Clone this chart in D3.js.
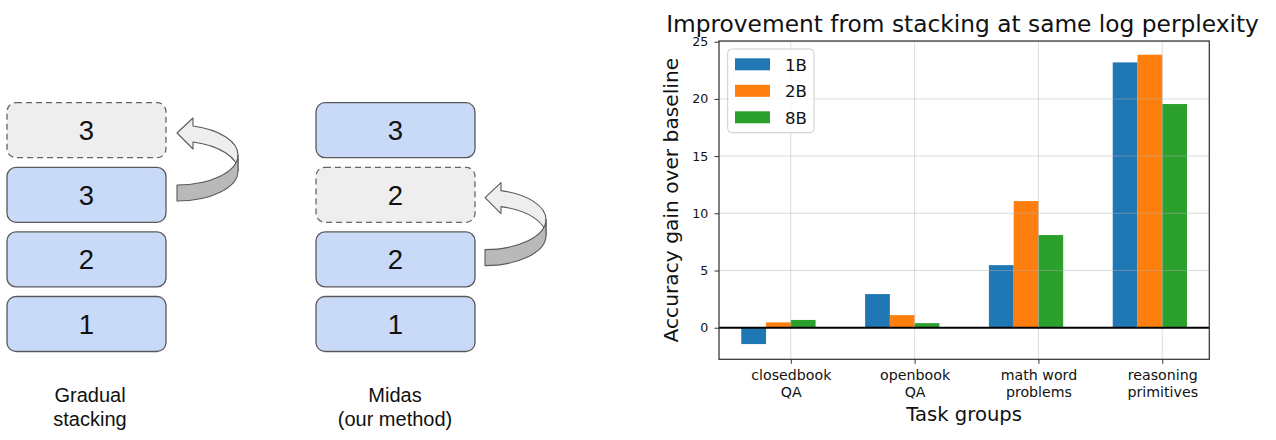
<!DOCTYPE html>
<html>
<head>
<meta charset="utf-8">
<script src="https://cdn.jsdelivr.net/npm/d3@7"></script>
<style>
  html, body { margin: 0; padding: 0; background: #fff; }
  svg { display: block; }
</style>
</head>
<body>
<svg id="fig" width="1276" height="440"></svg>
<script>
// ---------------- data ----------------
const categories = ["closedbook\nQA", "openbook\nQA", "math word\nproblems", "reasoning\nprimitives"];
const seriesNames = ["1B", "2B", "8B"];
const values1B = [-1.43, 2.94, 5.47, 23.19];
const values2B = [0.47, 1.10, 11.07, 23.86];
const values8B = [0.68, 0.40, 8.10, 19.55];
const yTicks = [0, 5, 10, 15, 20, 25];
const chartTitle = "Improvement from stacking at same log perplexity";
const yLabel = "Accuracy gain over baseline";
const xLabel = "Task groups";

const gradualLayers = ["1", "2", "3", "3"];   // bottom to top
const midasLayers = ["1", "2", "2", "3"];
const gradualCaption = ["Gradual", "stacking"];
const midasCaption = ["Midas", "(our method)"];

// ---------------- setup ----------------
const svg = d3.select("#fig");
const colors = ["#1f77b4", "#ff7f0e", "#2ca02c"];
const series = [values1B, values2B, values8B];

// ---------------- left diagram ----------------
const diag = svg.append("g").attr("font-family", "'Liberation Sans', Arial, sans-serif");
const boxW = 159, boxH = 55, pitch = 64.6, bottomTop = 296.5;

function drawStack(x0, layers, dashedIndex) {
  layers.forEach((lbl, i) => {
    const y = bottomTop - i * pitch;
    const dashed = i === dashedIndex;
    diag.append("rect")
      .attr("x", x0).attr("y", y).attr("width", boxW).attr("height", boxH)
      .attr("rx", 9).attr("ry", 9)
      .attr("fill", dashed ? "#eeeeee" : "#c9daf8")
      .attr("stroke", dashed ? "#666666" : "#595959")
      .attr("stroke-width", 1.3)
      .attr("stroke-dasharray", dashed ? "6,4" : null);
    diag.append("text")
      .attr("x", x0 + boxW / 2).attr("y", y + boxH / 2 + 9.9)
      .attr("text-anchor", "middle").attr("font-size", 27.5).attr("fill", "#111")
      .text(lbl);
  });
}

function drawArrow(dx, dy) {
  const g = diag.append("g").attr("transform", `translate(${dx},${dy})`);
  const cx = 177, cy = 155, rx = 61, ry = 30, t = 16;
  const hx = 193;
  const c = (hx - cx) / rx, s = Math.sqrt(1 - c * c);
  const uy = cy - ry * s;
  // light top face with arrowhead
  g.append("path")
    .attr("d", `M${hx},${uy} L${hx},118 L${cx},133 L${hx},149 L${hx},${uy + t}
      A${rx},${ry} 0 0 1 ${cx + rx},${cy + t} L${cx + rx},${cy}
      A${rx},${ry} 0 0 0 ${hx},${uy} Z`)
    .attr("fill", "#eeeeee").attr("stroke", "#595959").attr("stroke-width", 1.1)
    .attr("stroke-linejoin", "round");
  // dark underside towards the tail
  g.append("path")
    .attr("d", `M${cx + rx},${cy} A${rx},${ry} 0 0 1 ${cx},${cy + ry}
      L${cx},${cy + ry + t} A${rx},${ry} 0 0 0 ${cx + rx},${cy + t} Z`)
    .attr("fill", "#b9b9b9").attr("stroke", "#595959").attr("stroke-width", 1.1)
    .attr("stroke-linejoin", "round");
}

drawStack(7, gradualLayers, 3);
drawStack(316, midasLayers, 2);
drawArrow(0, 0);
drawArrow(308, 64.6);

function caption(cx, lines) {
  lines.forEach((l, i) => {
    diag.append("text").attr("x", cx).attr("y", 402 + i * 24)
      .attr("text-anchor", "middle").attr("font-size", 20).attr("fill", "#111")
      .text(l);
  });
}
caption(90, gradualCaption);
caption(395, midasCaption);

// ---------------- bar chart ----------------
const L = 719, R = 1209.3, T = 41, B = 359.3;
const x = d3.scaleLinear().domain([-0.58, 3.38]).range([L, R]);
const y = d3.scaleLinear().domain([-2.76, 25.06]).range([B, T]);
const chart = svg.append("g").attr("font-family", "'DejaVu Sans', sans-serif");
const barW = 0.2;

// bars
series.forEach((vals, k) => {
  chart.append("g").selectAll("rect").data(vals).join("rect")
    .attr("x", (d, i) => x(i + (k - 2) * barW))
    .attr("width", x(barW) - x(0))
    .attr("y", d => y(Math.max(0, d)))
    .attr("height", d => Math.abs(y(d) - y(0)))
    .attr("fill", colors[k]);
});

// grid (above bars, like matplotlib default)
const grid = chart.append("g").attr("stroke", "#b0b0b0").attr("stroke-opacity", 0.45).attr("stroke-width", 1);
grid.selectAll("line.h").data(yTicks).join("line")
  .attr("x1", L).attr("x2", R).attr("y1", d => y(d)).attr("y2", d => y(d));
grid.selectAll("line.v").data(categories.map((c, i) => i)).join("line")
  .attr("x1", d => x(d)).attr("x2", d => x(d)).attr("y1", T).attr("y2", B);

// zero line
chart.append("line").attr("x1", L).attr("x2", R).attr("y1", y(0)).attr("y2", y(0))
  .attr("stroke", "#000").attr("stroke-width", 2);

// axes
const yAxis = chart.append("g").attr("transform", `translate(${L},0)`)
  .call(d3.axisLeft(y).tickValues(yTicks).tickSize(4.5).tickPadding(6.3).tickFormat(d3.format("d")));
yAxis.select(".domain").remove();
yAxis.selectAll("text").attr("font-size", 12.6).attr("fill", "#111").attr("font-family", "'DejaVu Sans', sans-serif");
yAxis.selectAll("line").attr("stroke", "#333").attr("stroke-width", 1);

const xAxis = chart.append("g").attr("transform", `translate(0,${B})`)
  .call(d3.axisBottom(x).tickValues(categories.map((c, i) => i)).tickSize(4.5).tickFormat(""));
xAxis.select(".domain").remove();
xAxis.selectAll("line").attr("stroke", "#333").attr("stroke-width", 1);
xAxis.selectAll(".tick").each(function (d) {
  const lines = categories[d].split("\n");
  const tEl = d3.select(this).select("text")
    .attr("font-size", 14.2).attr("fill", "#111").attr("font-family", "'DejaVu Sans', sans-serif")
    .attr("text-anchor", "middle").attr("y", 0).attr("dy", null);
  lines.forEach((l, j) => {
    tEl.append("tspan").attr("x", 0).attr("y", 20.7 + j * 16.8).text(l);
  });
});

// spines
chart.append("rect").attr("x", L).attr("y", T).attr("width", R - L).attr("height", B - T)
  .attr("fill", "none").attr("stroke", "#333").attr("stroke-width", 1.25);

// title and labels
chart.append("text").attr("x", 962.5).attr("y", 31.7).attr("text-anchor", "middle")
  .attr("font-size", 23.3).attr("fill", "#111").text(chartTitle);
chart.append("text").attr("x", (L + R) / 2).attr("y", 420.7).attr("text-anchor", "middle")
  .attr("font-size", 19.6).attr("fill", "#111").text(xLabel);
chart.append("text").attr("transform", `translate(677.5,${(T + B) / 2}) rotate(-90)`)
  .attr("text-anchor", "middle").attr("font-size", 20.2).attr("fill", "#111").text(yLabel);

// legend
const leg = chart.append("g");
leg.append("rect").attr("x", 727.7).attr("y", 49).attr("width", 86.3).attr("height", 83.7)
  .attr("rx", 4).attr("fill", "#fff").attr("fill-opacity", 0.8)
  .attr("stroke", "#cccccc").attr("stroke-width", 1);
seriesNames.forEach((n, k) => {
  const cy = 64.3 + k * 26.5;
  leg.append("rect").attr("x", 735).attr("y", cy - 6).attr("width", 35).attr("height", 12)
    .attr("fill", colors[k]);
  leg.append("text").attr("x", 785).attr("y", cy + 6.4).attr("font-size", 16.6).attr("fill", "#111").text(n);
});
</script>
</body>
</html>
